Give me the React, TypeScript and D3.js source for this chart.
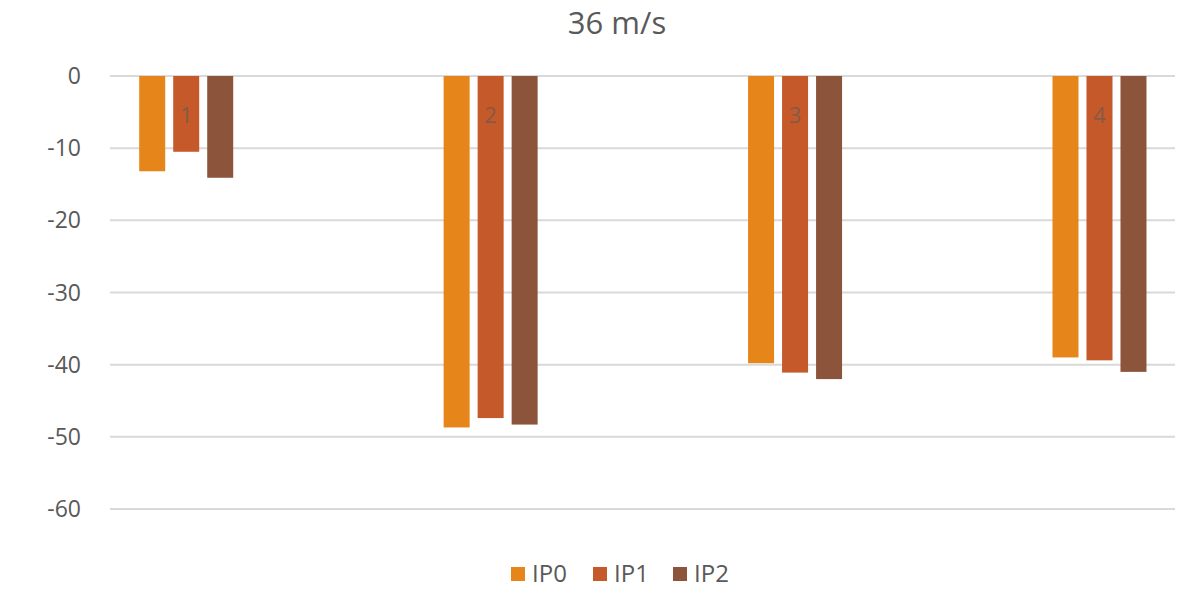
import { useEffect, useRef } from "react";
import * as d3 from "d3";

const categories = ["1", "2", "3", "4"];
const seriesNames = ["IP0", "IP1", "IP2"];
const ip0 = [-13.2, -48.7, -39.8, -39.0];
const ip1 = [-10.5, -47.4, -41.1, -39.4];
const ip2 = [-14.1, -48.3, -42.0, -41.0];
const yTicks = [0, -10, -20, -30, -40, -50, -60];
const colors = ["#E6851A", "#C5592A", "#8C553B"];

const W = 1196;
const H = 611;
const FONT = "'Open Sans', sans-serif";

export default function App() {
  const svgRef = useRef<SVGSVGElement>(null);

  useEffect(() => {
    if (!svgRef.current) return;
    const svg = d3.select(svgRef.current);
    svg.selectAll("*").remove();

    const values = [ip0, ip1, ip2];
    const gridLeft = 110;
    const gridRight = 1175;

    const y = d3.scaleLinear().domain([0, -60]).range([76, 509]);

    // category bands, extending past the grid like the original
    const x = d3
      .scaleBand<string>()
      .domain(categories)
      .range([34, 1251.7])
      .paddingInner(0);

    const groupW = 94;
    const inner = d3
      .scaleBand<string>()
      .domain(seriesNames)
      .range([0, groupW])
      .paddingInner(8 / 34)
      .paddingOuter(0);

    // Title
    svg
      .append("text")
      .attr("x", 617)
      .attr("y", 34)
      .attr("text-anchor", "middle")
      .attr("fill", "#595959")
      .attr("font-family", FONT)
      .attr("font-size", "31px")
      .text("36 m/s");

    // Gridlines and tick labels
    yTicks.forEach((t) => {
      svg
        .append("line")
        .attr("x1", gridLeft)
        .attr("x2", gridRight)
        .attr("y1", y(t))
        .attr("y2", y(t))
        .attr("stroke", "#D9D9D9")
        .attr("stroke-width", 2);
      svg
        .append("text")
        .attr("x", 81)
        .attr("y", y(t))
        .attr("dy", "0.35em")
        .attr("text-anchor", "end")
        .attr("fill", "#595959")
        .attr("font-family", FONT)
        .attr("font-size", "23px")
        .text(String(t));
    });

    // Bars
    categories.forEach((c, ci) => {
      const gx = x(c)! + x.bandwidth() / 2 - groupW / 2;
      seriesNames.forEach((s, si) => {
        const v = values[si][ci];
        svg
          .append("rect")
          .attr("x", gx + inner(s)!)
          .attr("y", y(0))
          .attr("width", inner.bandwidth())
          .attr("height", y(v) - y(0))
          .attr("fill", colors[si]);
      });
      svg
        .append("text")
        .attr("x", x(c)! + x.bandwidth() / 2)
        .attr("y", 115)
        .attr("dy", "0.35em")
        .attr("text-anchor", "middle")
        .attr("fill", "#595959")
        .attr("fill-opacity", 0.6)
        .attr("font-family", FONT)
        .attr("font-size", "22px")
        .text(c);
    });

    // Legend
    const legendX = [511, 593, 673];
    seriesNames.forEach((s, i) => {
      svg
        .append("rect")
        .attr("x", legendX[i])
        .attr("y", 567)
        .attr("width", 14)
        .attr("height", 14)
        .attr("fill", colors[i]);
      svg
        .append("text")
        .attr("x", legendX[i] + 21)
        .attr("y", 574)
        .attr("dy", "0.35em")
        .attr("fill", "#595959")
        .attr("font-family", FONT)
        .attr("font-size", "24px")
        .text(s);
    });
  }, []);

  return (
    <div style={{ position: "absolute", left: 0, top: 0, background: "#fff" }}>
      <svg ref={svgRef} width={W} height={H} style={{ display: "block" }} />
    </div>
  );
}
